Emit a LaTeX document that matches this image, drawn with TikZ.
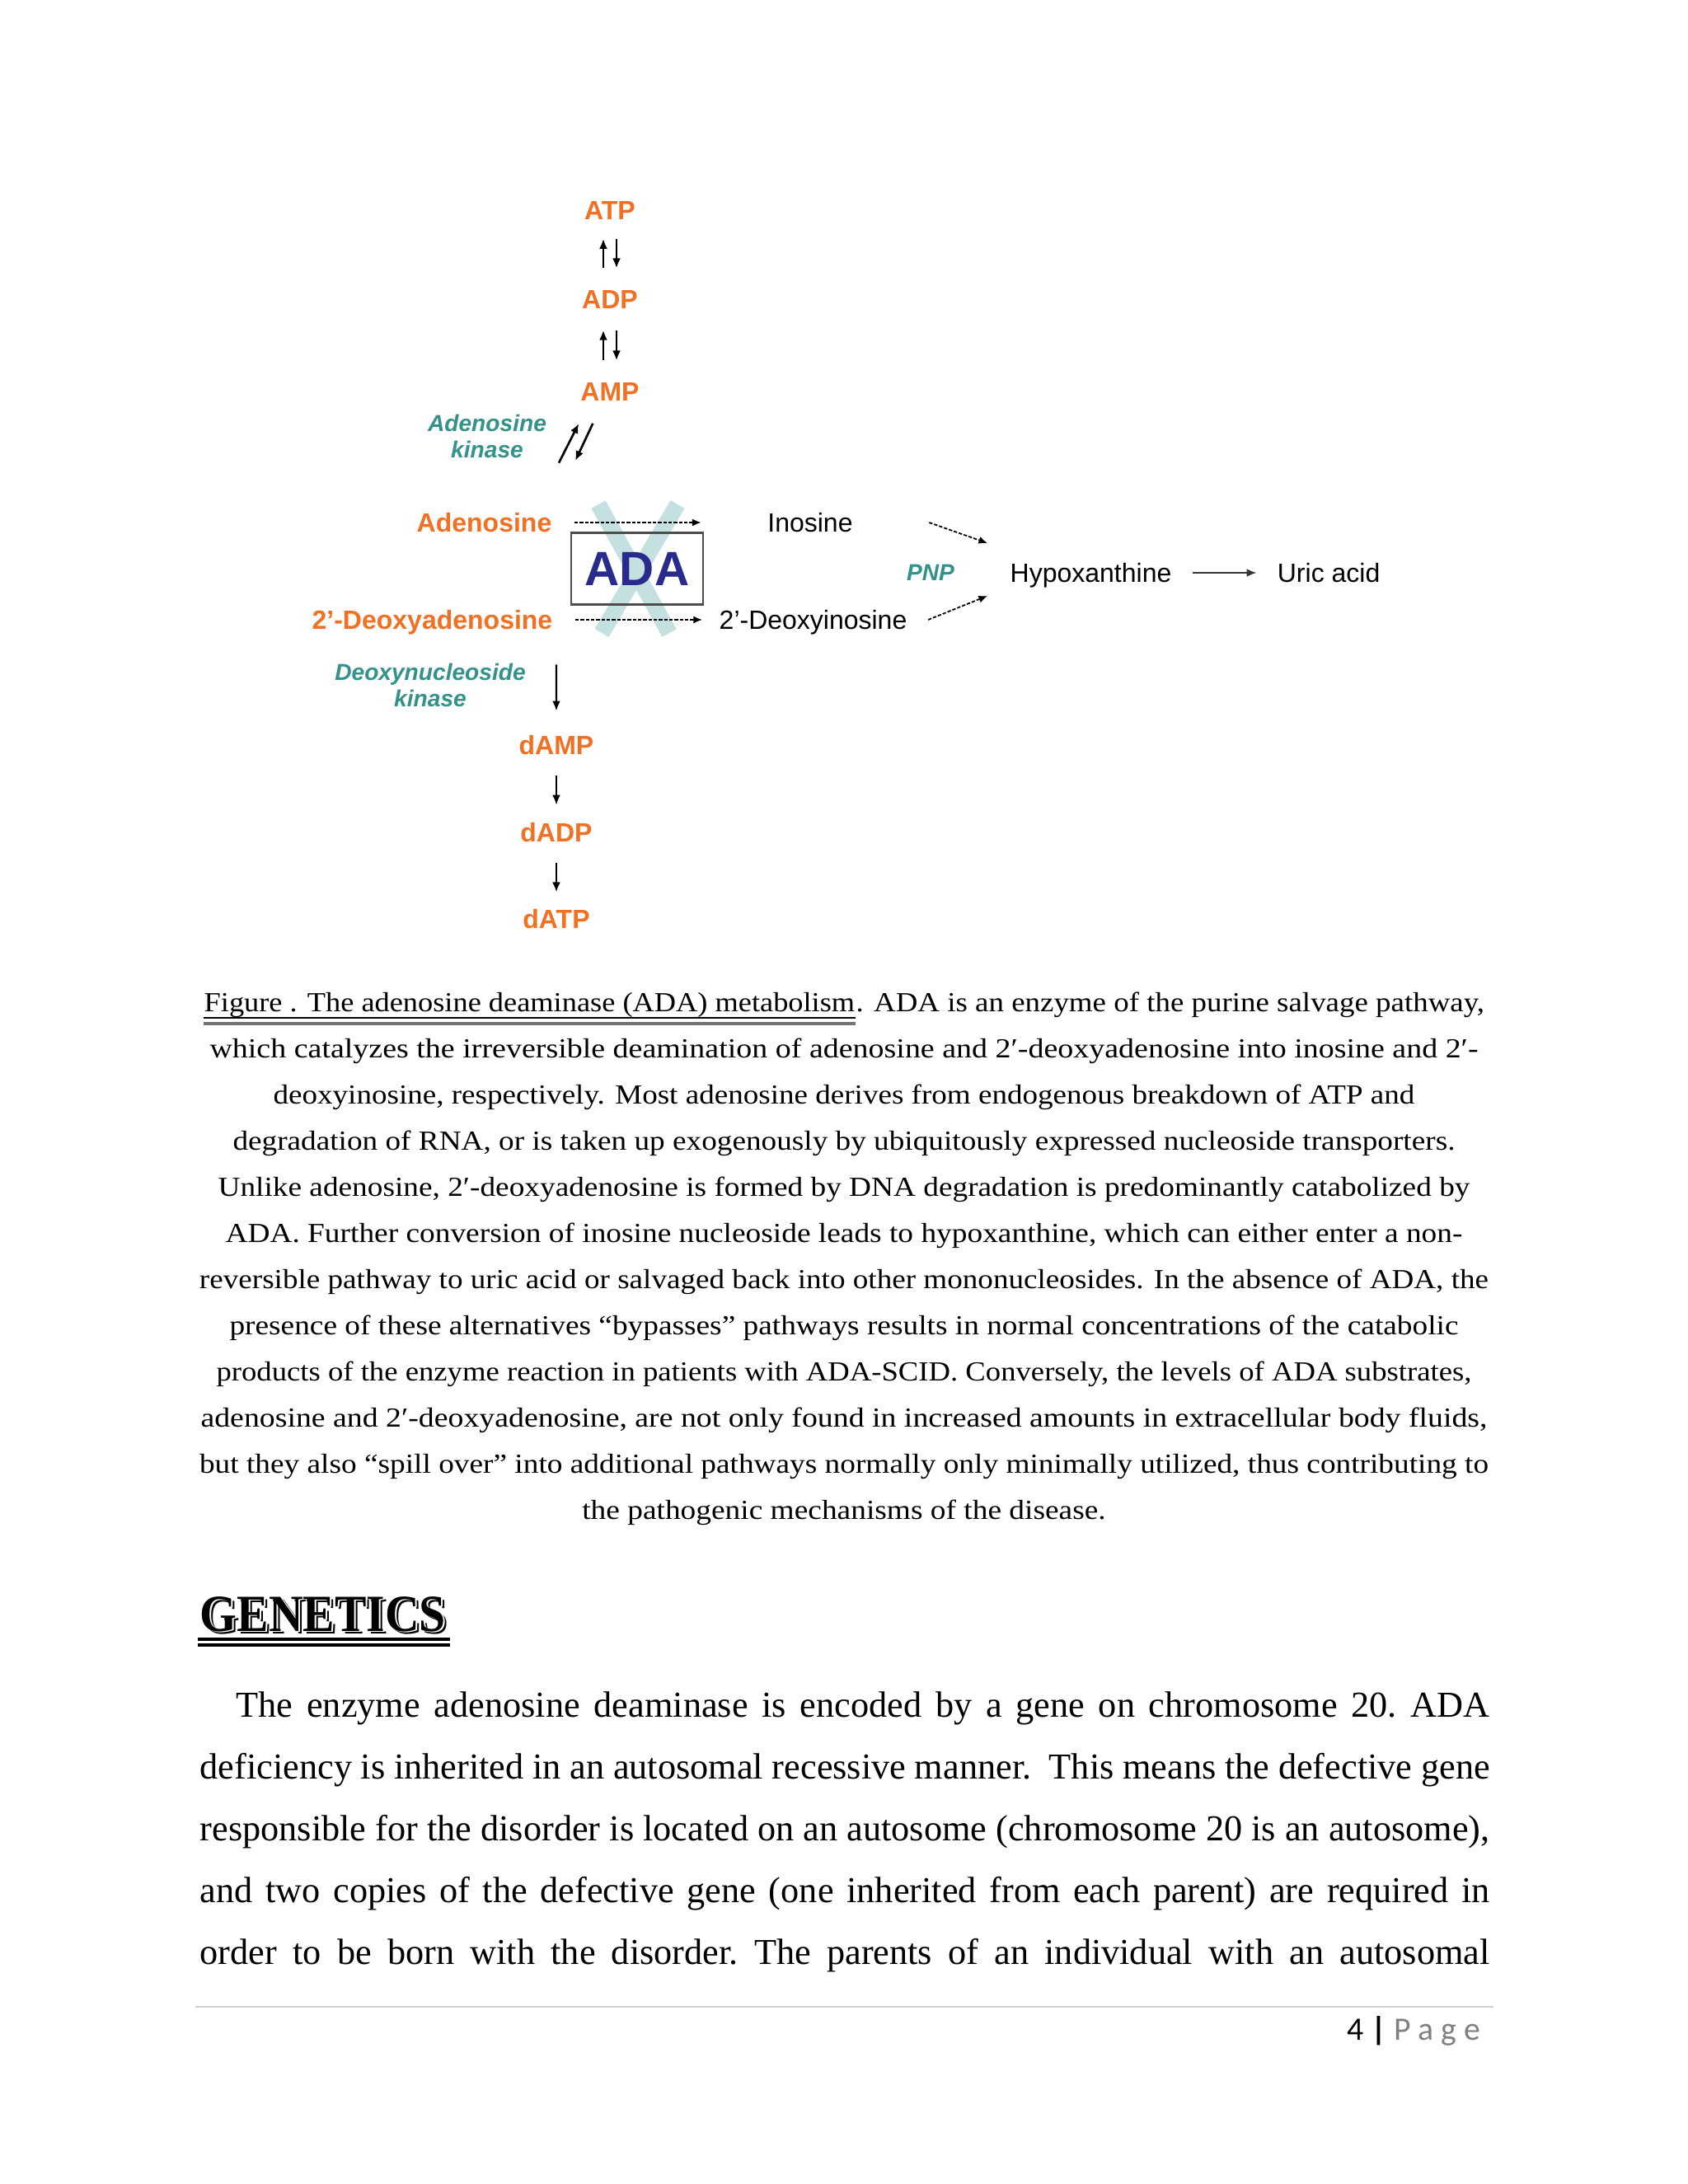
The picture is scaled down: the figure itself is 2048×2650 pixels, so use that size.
\documentclass[tikz,border=0pt]{standalone}
\usepackage{fontspec}
\usepackage{graphicx}
\setmainfont{Liberation Serif}
\newfontfamily\arialfont{Liberation Sans}
\newfontfamily\calibrifont{Carlito}
\usetikzlibrary{arrows.meta,positioning}
\definecolor{metorange}{RGB}{240,112,36}
\definecolor{enzteal}{RGB}{52,146,138}
\definecolor{adanavy}{RGB}{40,42,140}
\definecolor{crossteal}{RGB}{172,212,212}
\tikzset{
  metab/.style={font=\arialfont\bfseries\fontsize{9.1}{11}\selectfont,text=metorange,inner sep=0pt,
                text height=6.6pt,text depth=0pt},
  prod/.style={font=\arialfont\fontsize{9.1}{11}\selectfont,inner sep=0pt,text height=6.6pt,text depth=0pt},
  enzym/.style={font=\arialfont\bfseries\itshape\fontsize{8}{9.1}\selectfont,text=enzteal,align=center,
                inner sep=0pt},
  adabox/.style={draw=black!70,line width=0.6pt,minimum width=1.6cm,minimum height=0.87cm,inner sep=0pt,
                 font=\arialfont\bfseries\fontsize{16.6}{18}\selectfont,text=adanavy},
  adacross/.style={line width=5.6pt,crossteal,opacity=0.7},
  nyil/.style={-{Latex[length=3.4pt,width=2.8pt]},line width=0.75pt},
  pnyil/.style={-{Latex[length=3pt,width=2.6pt]},line width=0.5pt,dash pattern=on 1.2pt off 0.6pt},
  capline/.style={font=\fontsize{9.5}{11}\selectfont,inner sep=0pt,anchor=base},
  headline/.style={font=\bfseries\fontsize{18}{20}\selectfont,inner sep=0pt,anchor=base west},
  bodyline/.style={font=\fontsize{12.6}{15}\selectfont\frenchspacing,inner sep=0pt,anchor=base west},
  footer/.style={font=\calibrifont\fontsize{11.3}{13}\selectfont,inner sep=0pt,anchor=base east},
}
\newcommand{\genetics}{\resizebox{2.98cm}{\height}{GENETICS}}

\begin{document}
\begin{tikzpicture}[x=0.01cm,y=-0.01cm]
  \fill[white] (0,0) rectangle (2048,2650);
  \useasboundingbox (0,0) rectangle (2048,2650);

  \node[metab] (atp) at (740,255) {ATP};
  \node[metab] (adp) at (740,363) {ADP};
  \node[metab] (amp) at (740,475) {AMP};
  \node[enzym] (adk) at (591,529) {Adenosine\\kinase};
  \node[metab,anchor=east] (ado) at (670,634) {Adenosine};
  \node[metab,anchor=east] (dado) at (671,752) {2’-Deoxyadenosine};
  \draw[adacross] (726,612) -- (812,768) (822,612) -- (730,768);
  \node[adabox] (ada) at (773,690) {ADA};
  \node[prod] (ino) at (983,634) {Inosine};
  \node[prod,anchor=west] (dino) at (872,752) {2’-Deoxyinosine};
  \node[enzym] (pnp) at (1129,695) {PNP};
  \node[prod,anchor=west] (hypo) at (1225,695) {Hypoxanthine};
  \node[prod,right=1.27cm of hypo] (uric) {Uric acid};
  \node[enzym] (dnk) at (522,831) {Deoxynucleoside\\kinase};
  \node[metab] (damp) at (675,904) {dAMP};
  \node[metab] (dadp) at (675,1010) {dADP};
  \node[metab] (datp) at (675,1115) {dATP};

  \draw[nyil,shorten <=7.2pt,shorten >=6.4pt] ([xshift=-0.08cm]adp.north) -- ([xshift=-0.08cm]atp.south);
  \draw[nyil,shorten <=6.4pt,shorten >=7.2pt] ([xshift=0.08cm]atp.south) -- ([xshift=0.08cm]adp.north);
  \draw[nyil,shorten <=7.2pt,shorten >=7.2pt] ([xshift=-0.08cm]amp.north) -- ([xshift=-0.08cm]adp.south);
  \draw[nyil,shorten <=7.2pt,shorten >=7.2pt] ([xshift=0.08cm]adp.south) -- ([xshift=0.08cm]amp.north);
  \draw[nyil] ([xshift=0.08cm,yshift=0.60cm]ado.north east) -- ([xshift=-0.015cm,yshift=-0.265cm]amp.south west);
  \draw[nyil] ([xshift=0.155cm,yshift=-0.265cm]amp.south west) -- ([xshift=0.28cm,yshift=0.625cm]ado.north east);
  \draw[pnyil,shorten <=7.7pt,shorten >=22.8pt] (ado) -- (ino);
  \draw[pnyil,shorten <=7.7pt,shorten >=5.7pt] (dado) -- (dino);
  \draw[pnyil] ([xshift=0.92cm]ino.east) -- ([xshift=-0.27cm,yshift=0.36cm]hypo.west);
  \draw[pnyil] ([xshift=0.25cm]dino.east) -- ([xshift=-0.27cm,yshift=-0.28cm]hypo.west);
  \draw[nyil,black!80,line width=0.6pt,shorten <=7.1pt,shorten >=7pt] (hypo) -- (uric);
  \draw[nyil,line width=0.6pt,shorten >=8.3pt] ([xshift=0.04cm,yshift=-0.42cm]dado.south east) -- (damp.north);
  \draw[nyil,line width=0.6pt,shorten <=7pt,shorten >=6pt] (damp) -- (dadp);
  \draw[nyil,line width=0.6pt,shorten <=7pt,shorten >=5.8pt] (dadp) -- (datp);

  \node[capline,anchor=base west] (capt) at (247,1227)
    {\resizebox{7.89cm}{\height}{Figure . The adenosine deaminase (ADA) metabolism}};
  \node[capline,anchor=base west] (cap1) at (capt.base east)
    {\resizebox{7.62cm}{\height}{. ADA is an enzyme of the purine salvage pathway,}};
  \draw[line width=0.5pt] ([yshift=-0.08cm]capt.base west) -- ([yshift=-0.08cm]capt.base east);
  \draw[black!55,line width=1.2pt] ([yshift=-0.15cm]capt.base west) -- ([yshift=-0.15cm]capt.base east);
  \node[capline] (cap2) at (1024,1283) {\resizebox{15.38cm}{\height}{which catalyzes the irreversible deamination of adenosine and 2′-deoxyadenosine into inosine and 2′-}};
  \node[capline] (cap3) at (1024,1339) {\resizebox{13.84cm}{\height}{deoxyinosine, respectively. Most adenosine derives from endogenous breakdown of ATP and}};
  \node[capline] (cap4) at (1024,1395) {\resizebox{14.82cm}{\height}{degradation of RNA, or is taken up exogenously by ubiquitously expressed nucleoside transporters.}};
  \node[capline] (cap5) at (1024,1451) {\resizebox{15.18cm}{\height}{Unlike adenosine, 2′-deoxyadenosine is formed by DNA degradation is predominantly catabolized by}};
  \node[capline] (cap6) at (1024,1507) {\resizebox{15.00cm}{\height}{ADA. Further conversion of inosine nucleoside leads to hypoxanthine, which can either enter a non-}};
  \node[capline] (cap7) at (1024,1563) {\resizebox{15.63cm}{\height}{reversible pathway to uric acid or salvaged back into other mononucleosides. In the absence of ADA, the}};
  \node[capline] (cap8) at (1024,1619) {\resizebox{14.90cm}{\height}{presence of these alternatives “bypasses” pathways results in normal concentrations of the catabolic}};
  \node[capline] (cap9) at (1024,1675) {\resizebox{15.22cm}{\height}{products of the enzyme reaction in patients with ADA-SCID. Conversely, the levels of ADA substrates,}};
  \node[capline] (cap10) at (1024,1731) {\resizebox{15.60cm}{\height}{adenosine and 2′-deoxyadenosine, are not only found in increased amounts in extracellular body fluids,}};
  \node[capline] (cap11) at (1024,1787) {\resizebox{15.63cm}{\height}{but they also “spill over” into additional pathways normally only minimally utilized, thus contributing to}};
  \node[capline] (cap12) at (1024,1843) {\resizebox{6.35cm}{\height}{the pathogenic mechanisms of the disease.}};

  \node[headline,text=black] (genshade) at (246,1982) {\genetics};
  \node[headline,text=white] (genmid) at (244,1980.5) {\genetics};
  \node[headline] (gen) at (242,1979) {\genetics};
  \draw[line width=1pt] ([xshift=-0.02cm,yshift=-0.10cm]gen.base west) -- ([xshift=0.04cm,yshift=-0.10cm]gen.base east);
  \draw[line width=1pt] ([xshift=-0.02cm,yshift=-0.17cm]gen.base west) -- ([xshift=0.04cm,yshift=-0.17cm]gen.base east);

  \node[bodyline] (body1) at (286,2083) {\makebox[15.20cm][s]{The enzyme adenosine deaminase is encoded by a gene on chromosome 20. ADA}};
  \node[bodyline] (body2) at (242,2158) {\makebox[15.64cm][s]{deficiency is inherited in an autosomal recessive manner.\ \ This means the defective gene}};
  \node[bodyline] (body3) at (242,2233) {\makebox[15.64cm][s]{responsible for the disorder is located on an autosome (chromosome 20 is an autosome),}};
  \node[bodyline] (body4) at (242,2308) {\makebox[15.64cm][s]{and two copies of the defective gene (one inherited from each parent) are required in}};
  \node[bodyline] (body5) at (242,2383) {\makebox[15.64cm][s]{order to be born with the disorder. The parents of an individual with an autosomal}};

  \draw[black!18,line width=0.5pt] (237,2435) -- (1812,2435);
  \node[footer] (pagenum) at (1797,2475) {4 \textbf{|} \textcolor{black!50}{P a g e}};
\end{tikzpicture}
\end{document}
